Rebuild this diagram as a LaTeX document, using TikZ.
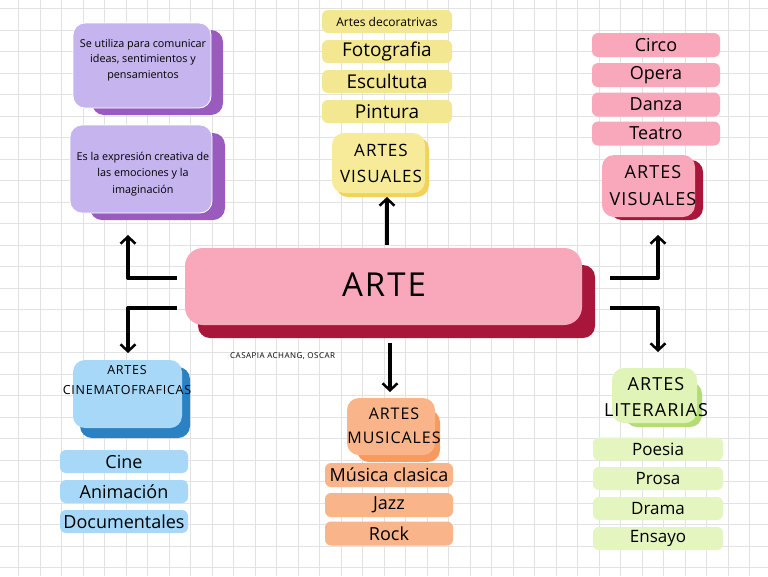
\documentclass[tikz,border=0pt]{standalone}
\usepackage{fontspec}
\setmainfont{Open Sans}
\newfontfamily\capsfont[LetterSpace=6]{Open Sans}
\usetikzlibrary{arrows.meta}
\definecolor{gridc}{HTML}{E2E2E2}
\definecolor{purF}{HTML}{C6B4EE}\definecolor{purS}{HTML}{9A5BBF}
\definecolor{yelF}{HTML}{F7EB9A}\definecolor{yelI}{HTML}{F4E791}\definecolor{yelS}{HTML}{F4D15A}
\definecolor{pinF}{HTML}{F9A8BC}\definecolor{pinS}{HTML}{A8163B}
\definecolor{bluF}{HTML}{A7D8F8}\definecolor{bluS}{HTML}{2A82C4}
\definecolor{oraF}{HTML}{F9B48A}\definecolor{oraS}{HTML}{F79A5E}
\definecolor{greF}{HTML}{E1F4B8}\definecolor{greS}{HTML}{B3DC74}\definecolor{greI}{HTML}{E4F5C0}
\newcommand{\fs}[1]{\fontsize{#1}{#1}\selectfont}
\tikzset{
  box/.style={rounded corners=12pt},
  itembox/.style={rounded corners=6pt, inner sep=0pt, minimum height=23pt, text=black},
  lbl/.style={inner sep=0pt, text=black, align=center},
  arr/.style={line width=4pt, black, line join=round, -{Straight Barb[length=7pt,width=15pt,line width=2.5pt]}}
}
\begin{document}
\begin{tikzpicture}[x=1pt,y=-1pt]
\useasboundingbox (0,0) rectangle (768,576);
\fill[white] (0,0) rectangle (768,576);
\foreach \i in {0,...,35} \draw[gridc, line width=0.7pt] (18.5+21.5*\i,0) -- ++(0,576);
\foreach \i in {0,...,27} \draw[gridc, line width=0.7pt] (0,8.5+21.5*\i) -- ++(768,0);

% ---- centre
\fill[pinS, box] (198,265) rectangle (595,338);
\fill[pinF, box, rounded corners=18pt] (185,248) rectangle (582,325);
\node[lbl, font=\capsfont\fs{33}] (arte) at (384,285) {ARTE};
\node[lbl, font=\capsfont\fs{8}, anchor=west] (author) at (230,356) {CASAPIA ACHANG, OSCAR};

% ---- purple
\fill[purS, box] (92,30) rectangle (223,115);
\fill[purF, box, draw=white, line width=0.8pt] (73,23) rectangle (211,108);
\node[lbl, font=\fs{10.8}, align=center] (p1) at (143,60) {Se utiliza para comunicar\\[5pt]ideas, sentimientos y\\[5pt]pensamientos};
\fill[purS, box] (90,133) rectangle (225,220);
\fill[purF, box, draw=white, line width=0.8pt] (70,125) rectangle (212,213);
\node[lbl, font=\fs{10.8}, align=center] (p2) at (143,174) {Es la expresión creativa de\\[5pt]las emociones y la\\[5pt]imaginación};

% ---- yellow
\node[itembox, fill=yelI, minimum width=130pt, font=\fs{12}] (y0) at (387,21.5) {Artes decoratrivas};
\node[itembox, fill=yelI, minimum width=130pt, font=\fs{19}] (y1) at (387,51.5) {Fotografia};
\node[itembox, fill=yelI, minimum width=130pt, font=\fs{19}] (y2) at (387,81.5) {Escultuta};
\node[itembox, fill=yelI, minimum width=130pt, font=\fs{19}] (y3) at (387,111.5) {Pintura};
\fill[yelS, box] (336,137) rectangle (429,197);
\fill[yelF, box] (332,133) rectangle (425,193);
\node[lbl, font=\capsfont\fs{17}] (yv) at (381,163) {ARTES\\[9pt]VISUALES};

% ---- pink
\node[itembox, fill=pinF, minimum width=128pt, minimum height=24pt, font=\fs{18}] (k1) at (656,45) {Circo};
\node[itembox, fill=pinF, minimum width=128pt, minimum height=24pt, font=\fs{18}] (k2) at (656,75) {Opera};
\node[itembox, fill=pinF, minimum width=128pt, minimum height=24pt, font=\fs{18}] (k3) at (656,104.5) {Danza};
\node[itembox, fill=pinF, minimum width=128pt, minimum height=24pt, font=\fs{18}] (k4) at (656,133.5) {Teatro};
\fill[pinS, box] (610,160) rectangle (703,220);
\fill[pinF, box] (602,155) rectangle (695,217);
\node[lbl, font=\capsfont\fs{18}] (kv) at (653,186) {ARTES\\[9pt]VISUALES};

% ---- blue
\fill[bluS, box] (80,367) rectangle (190,438);
\fill[bluF, box] (73,360) rectangle (182,428);
\node[lbl, font=\capsfont\fs{12.5}] (bv) at (127,380) {ARTES\\[8pt]CINEMATOFRAFICAS};
\node[itembox, fill=bluF, minimum width=128pt, font=\fs{18}] (b1) at (124,461.5) {Cine};
\node[itembox, fill=bluF, minimum width=128pt, font=\fs{18}] (b2) at (124,491.5) {Animación};
\node[itembox, fill=bluF, minimum width=128pt, font=\fs{18}] (b3) at (124,521.5) {Documentales};

% ---- orange
\fill[oraS, box] (357,410) rectangle (440,462);
\fill[oraF, box] (347,398) rectangle (435,455);
\node[lbl, font=\capsfont\fs{16}] (ov) at (394,426) {ARTES\\[8pt]MUSICALES};
\node[itembox, fill=oraF, minimum width=128pt, minimum height=24pt, font=\fs{18}] (o1) at (389,475) {Música clasica};
\node[itembox, fill=oraF, minimum width=128pt, minimum height=24pt, font=\fs{18}] (o2) at (389,505) {Jazz};
\node[itembox, fill=oraF, minimum width=128pt, minimum height=24pt, font=\fs{18}] (o3) at (389,533.5) {Rock};

% ---- green
\fill[greS, box] (625,382) rectangle (702,427);
\fill[greF, box] (612,368) rectangle (697,423);
\node[lbl, font=\capsfont\fs{18}] (gv) at (656,397) {ARTES\\[8pt]LITERARIAS};
\node[itembox, fill=greI, minimum width=130pt, font=\fs{17}] (g1) at (658,449) {Poesia};
\node[itembox, fill=greI, minimum width=130pt, font=\fs{17}] (g2) at (658,478.5) {Prosa};
\node[itembox, fill=greI, minimum width=130pt, font=\fs{17}] (g3) at (658,508.5) {Drama};
\node[itembox, fill=greI, minimum width=130pt, font=\fs{17}] (g4) at (658,538.5) {Ensayo};

% ---- connectors
\coordinate (ct) at (387,245); \coordinate (ctt) at (387,197);
\coordinate (cb) at (390,343); \coordinate (cbb) at (390,392);
\coordinate (lu) at (177,278); \coordinate (luk) at (128,278); \coordinate (lut) at (128,235);
\coordinate (ld) at (177,308); \coordinate (ldk) at (128,308); \coordinate (ldt) at (128,353);
\coordinate (ru) at (610,278); \coordinate (ruk) at (658,278); \coordinate (rut) at (658,235);
\coordinate (rd) at (610,308); \coordinate (rdk) at (658,308); \coordinate (rdt) at (658,352);
\draw[arr] (ct) -- (ctt);
\draw[arr] (cb) -- (cbb);
\draw[arr] (lu) -- (luk) -- (lut);
\draw[arr] (ld) -- (ldk) -- (ldt);
\draw[arr] (ru) -- (ruk) -- (rut);
\draw[arr] (rd) -- (rdk) -- (rdt);
\end{tikzpicture}
\end{document}
